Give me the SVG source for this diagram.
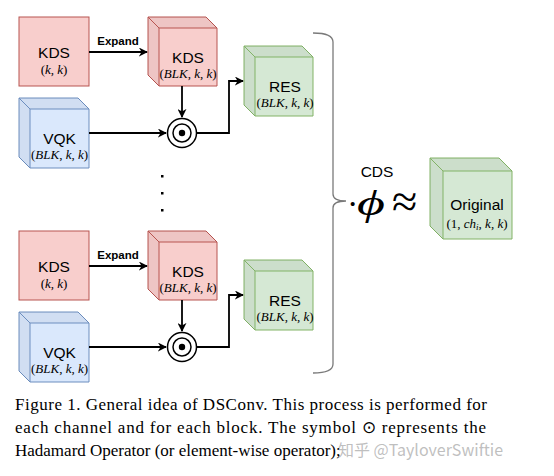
<svg xmlns="http://www.w3.org/2000/svg" width="554" height="476" viewBox="0 0 554 476">
<style>
.pk{fill:#f8cecc;stroke:#b85450;stroke-width:1}
.bl{fill:#dae8fc;stroke:#6c8ebf;stroke-width:1}
.gr{fill:#d5e8d4;stroke:#82b366;stroke-width:1}
.sh{fill:#000;fill-opacity:0.04;stroke:none}
.lbl{font-family:"Liberation Sans",Arial,sans-serif;font-size:15.5px;fill:#000;text-anchor:middle}
.math{font-family:"Liberation Serif","Times New Roman",serif;font-size:13px;fill:#000;text-anchor:middle}
.it{font-style:italic}
.conn{fill:none;stroke:#000;stroke-width:1.8}
.cap{font-family:"Liberation Serif","Times New Roman",serif;font-size:17px;fill:#000}
</style>
<defs>
<marker id="arr" viewBox="0 0 10 10" refX="9" refY="5" markerWidth="5" markerHeight="5" orient="auto" markerUnits="strokeWidth">
<path d="M0,0 L10,5 L0,10 L3,5 Z" fill="#000"/>
</marker>
<g id="odot">
<circle r="14.5" fill="#fff" stroke="#000" stroke-width="1.5"/>
<circle r="9" fill="none" stroke="#000" stroke-width="1.5"/>
<circle r="3.2" fill="#000"/>
</g>
</defs>
<rect width="554" height="476" fill="#fff"/>

<!-- top block -->
<g id="kds1">
<rect x="19" y="17" width="70" height="69" class="pk"/>
<text x="54" y="58" class="lbl">KDS</text>
<text x="54" y="74" class="math">(<tspan class="it">k</tspan>, <tspan class="it">k</tspan>)</text>
</g>
<g id="kdsc1">
<path d="M148,17 L206,17 L217,28 L217,86 L159,86 L148,75 Z" class="pk"/>
<path d="M148,17 L206,17 L217,28 L159,28 Z M148,17 L159,28 L159,86 L148,75 Z" class="sh"/>
<path d="M148,17 L159,28 L217,28 M159,28 L159,86" fill="none" stroke="#b85450"/>
<text x="188" y="63" class="lbl">KDS</text>
<text x="188" y="78" class="math">(<tspan class="it">BLK</tspan>, <tspan class="it">k</tspan>, <tspan class="it">k</tspan>)</text>
</g>
<g id="vqk1">
<path d="M19,98 L78,98 L89,109 L89,168 L30,168 L19,157 Z" class="bl"/>
<path d="M19,98 L78,98 L89,109 L30,109 Z M19,98 L30,109 L30,168 L19,157 Z" class="sh"/>
<path d="M19,98 L30,109 L89,109 M30,109 L30,168" fill="none" stroke="#6c8ebf"/>
<text x="59.5" y="144" class="lbl">VQK</text>
<text x="59.5" y="159" class="math">(<tspan class="it">BLK</tspan>, <tspan class="it">k</tspan>, <tspan class="it">k</tspan>)</text>
</g>
<g id="had1"><use href="#odot" x="182" y="133"/></g>
<g id="res1">
<path d="M244,46 L302,46 L313,57 L313,116 L255,116 L244,105 Z" class="gr"/>
<path d="M244,46 L302,46 L313,57 L255,57 Z M244,46 L255,57 L255,116 L244,105 Z" class="sh"/>
<path d="M244,46 L255,57 L313,57 M255,57 L255,116" fill="none" stroke="#82b366"/>
<text x="285" y="92" class="lbl">RES</text>
<text x="285" y="107" class="math">(<tspan class="it">BLK</tspan>, <tspan class="it">k</tspan>, <tspan class="it">k</tspan>)</text>
</g>

<!-- bottom block -->
<g id="kds2" transform="translate(0,214)">
<rect x="19" y="17" width="70" height="69" class="pk"/>
<text x="54" y="58" class="lbl">KDS</text>
<text x="54" y="74" class="math">(<tspan class="it">k</tspan>, <tspan class="it">k</tspan>)</text>
</g>
<g id="kdsc2" transform="translate(0,214)">
<path d="M148,17 L206,17 L217,28 L217,86 L159,86 L148,75 Z" class="pk"/>
<path d="M148,17 L206,17 L217,28 L159,28 Z M148,17 L159,28 L159,86 L148,75 Z" class="sh"/>
<path d="M148,17 L159,28 L217,28 M159,28 L159,86" fill="none" stroke="#b85450"/>
<text x="188" y="63" class="lbl">KDS</text>
<text x="188" y="78" class="math">(<tspan class="it">BLK</tspan>, <tspan class="it">k</tspan>, <tspan class="it">k</tspan>)</text>
</g>
<g id="vqk2" transform="translate(0,214)">
<path d="M19,98 L78,98 L89,109 L89,168 L30,168 L19,157 Z" class="bl"/>
<path d="M19,98 L78,98 L89,109 L30,109 Z M19,98 L30,109 L30,168 L19,157 Z" class="sh"/>
<path d="M19,98 L30,109 L89,109 M30,109 L30,168" fill="none" stroke="#6c8ebf"/>
<text x="59.5" y="144" class="lbl">VQK</text>
<text x="59.5" y="159" class="math">(<tspan class="it">BLK</tspan>, <tspan class="it">k</tspan>, <tspan class="it">k</tspan>)</text>
</g>
<g id="had2"><use href="#odot" x="182" y="347"/></g>
<g id="res2" transform="translate(0,214)">
<path d="M244,46 L302,46 L313,57 L313,116 L255,116 L244,105 Z" class="gr"/>
<path d="M244,46 L302,46 L313,57 L255,57 Z M244,46 L255,57 L255,116 L244,105 Z" class="sh"/>
<path d="M244,46 L255,57 L313,57 M255,57 L255,116" fill="none" stroke="#82b366"/>
<text x="285" y="92" class="lbl">RES</text>
<text x="285" y="107" class="math">(<tspan class="it">BLK</tspan>, <tspan class="it">k</tspan>, <tspan class="it">k</tspan>)</text>
</g>

<g id="original">
<path d="M430,158 L499,158 L512,171 L512,239 L443,239 L430,226 Z" class="gr"/>
<path d="M430,158 L499,158 L512,171 L443,171 Z M430,158 L443,171 L443,239 L430,226 Z" class="sh"/>
<path d="M430,158 L443,171 L512,171 M443,171 L443,239" fill="none" stroke="#82b366"/>
<text x="477" y="210" class="lbl">Original</text>
<text x="477" y="228" class="math">(1, <tspan class="it">ch</tspan><tspan class="it" font-size="9" dy="2">i</tspan><tspan dy="-2">, </tspan><tspan class="it">k</tspan>, <tspan class="it">k</tspan>)</text>
</g>

<g id="dots" fill="#000">
<rect x="161" y="175" width="2.5" height="2.5"/>
<rect x="161" y="192" width="2.5" height="2.5"/>
<rect x="161" y="209" width="2.5" height="2.5"/>
</g>

<g id="formula">
<text x="377" y="177" class="lbl">CDS</text>
<text x="347" y="215" font-family="Liberation Serif,serif" font-size="34">·</text>
<text transform="translate(357,215) scale(1.5,1)" x="0" y="0" font-family="Liberation Serif,serif" font-size="36" font-style="italic">ϕ</text>
<text x="392" y="217" font-family="Liberation Serif,serif" font-size="46">≈</text>
</g>

<g id="connectors">
<path d="M89,52 L147,52" class="conn" marker-end="url(#arr)"/>
<text x="118" y="45" font-family="Liberation Sans,Arial,sans-serif" font-size="11.5" font-weight="bold" text-anchor="middle">Expand</text>
<path d="M182,86 L182,117" class="conn" marker-end="url(#arr)"/>
<path d="M89,133 L166,133" class="conn" marker-end="url(#arr)"/>
<path d="M197,133 L229,133 L229,81 L243,81" class="conn" marker-end="url(#arr)"/>
<g transform="translate(0,214)">
<path d="M89,52 L147,52" class="conn" marker-end="url(#arr)"/>
<text x="118" y="45" font-family="Liberation Sans,Arial,sans-serif" font-size="11.5" font-weight="bold" text-anchor="middle">Expand</text>
<path d="M182,86 L182,117" class="conn" marker-end="url(#arr)"/>
<path d="M89,133 L166,133" class="conn" marker-end="url(#arr)"/>
<path d="M197,133 L229,133 L229,81 L243,81" class="conn" marker-end="url(#arr)"/>
</g>
<path d="M313,33 Q333,33 333,42 L333,194 Q333,201 346,201 Q333,201 333,208 L333,364 Q333,373 313,373" fill="none" stroke="#7a7a7a" stroke-width="1.3"/>
</g>

<g id="caption">
<text x="15" y="410" class="cap" textLength="472" lengthAdjust="spacing">Figure 1. General idea of DSConv.  This process is performed for</text>
<text x="15" y="433" class="cap" textLength="471" lengthAdjust="spacing">each channel and for each block.  The symbol ⊙ represents the</text>
<text x="15" y="456" class="cap">Hadamard Operator (or element-wise operator);</text>
<text x="338" y="456" font-family="Noto Sans CJK SC,Liberation Sans,sans-serif" font-size="16" fill="#b4b4b4" fill-opacity="0.85">知乎 @TayloverSwiftie</text>
</g>
</svg>
